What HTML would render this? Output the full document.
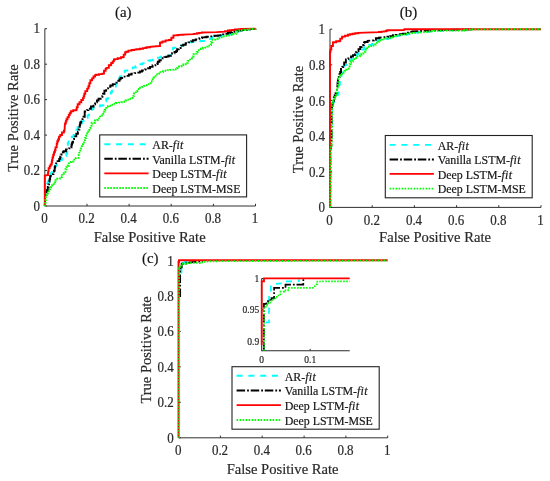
<!DOCTYPE html>
<html><head><meta charset="utf-8"><title>ROC curves</title>
<style>
html,body{margin:0;padding:0;background:#fff;}
svg{display:block;font-family:"Liberation Serif",serif;fill:#2a2a2a;}
text{stroke:#2a2a2a;stroke-width:0.2px;font-variant-ligatures:none;font-feature-settings:"liga" 0;}
</style></head>
<body>
<svg width="550" height="481" viewBox="0 0 550 481">
<rect width="550" height="481" fill="#fff"/>
<g id="plotA">
<path d="M44.85 28.7V206H255.5" fill="none" stroke="#303030" stroke-width="1"/>
<path d="M44.9 206v-2.2 M44.85 206.0h2.2 M87.0 206v-2.2 M44.85 170.5h2.2 M129.1 206v-2.2 M44.85 135.1h2.2 M171.2 206v-2.2 M44.85 99.6h2.2 M213.4 206v-2.2 M44.85 64.2h2.2 M255.5 206v-2.2 M44.85 28.7h2.2 " fill="none" stroke="#303030" stroke-width="1"/>
<text transform="translate(44.5 223.4) scale(1 1.06)" text-anchor="middle" font-size="13">0</text>
<text transform="translate(40.0 210.6) scale(1 1.06)" text-anchor="end" font-size="13">0</text>
<text transform="translate(86.6 223.4) scale(1 1.06)" text-anchor="middle" font-size="13">0.2</text>
<text transform="translate(40.0 175.1) scale(1 1.06)" text-anchor="end" font-size="13">0.2</text>
<text transform="translate(128.7 223.4) scale(1 1.06)" text-anchor="middle" font-size="13">0.4</text>
<text transform="translate(40.0 139.7) scale(1 1.06)" text-anchor="end" font-size="13">0.4</text>
<text transform="translate(170.8 223.4) scale(1 1.06)" text-anchor="middle" font-size="13">0.6</text>
<text transform="translate(40.0 104.2) scale(1 1.06)" text-anchor="end" font-size="13">0.6</text>
<text transform="translate(213.0 223.4) scale(1 1.06)" text-anchor="middle" font-size="13">0.8</text>
<text transform="translate(40.0 68.8) scale(1 1.06)" text-anchor="end" font-size="13">0.8</text>
<text transform="translate(255.1 223.4) scale(1 1.06)" text-anchor="middle" font-size="13">1</text>
<text transform="translate(40.0 33.3) scale(1 1.06)" text-anchor="end" font-size="13">1</text>
<text x="149.7" y="241.5" text-anchor="middle" font-size="14.6">False Positive Rate</text>
<text transform="translate(18.1 118.1) rotate(-90)" text-anchor="middle" font-size="14.5">True Positive Rate</text>
<polyline points="44.8,206.0 45.5,192.0 45.7,192.0 45.7,189.2 46.1,189.2 46.4,189.2 46.4,186.8 46.6,186.8 46.9,186.8 46.9,183.8 47.3,183.8 47.8,183.8 47.8,181.8 48.1,181.8 48.7,181.8 48.7,179.4 49.0,179.4 49.4,179.4 49.4,176.9 50.0,176.9 50.3,176.9 50.3,174.3 51.0,174.3 51.2,174.3 51.2,172.6 51.6,172.6 52.2,172.6 52.2,170.3 52.5,170.3 53.4,170.3 53.4,168.1 54.2,168.1 54.9,168.1 54.9,165.7 56.2,165.7 56.7,165.7 56.7,163.6 57.9,163.6 58.7,163.6 58.7,161.8 59.3,161.8 60.1,161.8 60.1,159.9 60.8,159.9 62.1,159.9 62.1,157.6 63.1,157.6 64.2,157.6 64.2,155.7 65.0,155.7 66.3,155.7 66.3,153.7 67.0,153.7 67.1,153.7 67.1,151.6 67.2,151.6 67.4,151.6 67.4,148.5 67.5,148.5 67.6,148.5 67.6,146.1 67.7,146.1 67.8,146.1 67.8,143.3 68.0,143.3 68.6,143.3 68.6,141.5 69.4,141.5 70.4,141.5 70.4,139.3 71.0,139.3 71.8,139.3 71.8,136.8 72.9,136.8 73.6,136.8 73.6,135.0 74.3,135.0 75.0,135.0 75.0,132.8 75.4,132.8 76.5,132.8 76.5,129.6 77.0,129.6 77.6,129.6 77.6,127.2 78.2,127.2 78.6,127.2 78.6,124.6 79.5,124.6 79.5,123.6 81.7,123.6 81.7,122.5 81.7,121.3 83.6,121.3 83.6,120.8 83.6,120.2 85.0,120.2 85.0,119.4 85.0,118.7 86.8,118.7 86.8,117.7 87.6,117.7 87.6,115.4 88.4,115.4 89.0,115.4 89.0,113.4 89.8,113.4 90.4,113.4 90.4,111.3 91.3,111.3 91.8,111.3 91.8,109.0 92.8,109.0 93.3,109.0 93.3,107.3 94.0,107.3 94.0,106.9 96.7,106.9 96.7,106.6 96.7,106.2 99.9,106.2 99.9,105.8 99.9,105.5 102.4,105.5 102.4,105.2 103.3,105.2 103.3,103.0 104.0,103.0 104.8,103.0 104.8,101.2 105.4,101.2 106.2,101.2 106.2,98.7 107.3,98.7 107.9,98.7 107.9,96.9 108.6,96.9 109.2,96.9 109.2,94.6 110.0,94.6 110.9,94.6 110.9,92.3 111.5,92.3 111.9,92.3 111.9,90.6 112.5,90.6 113.1,90.6 113.1,88.6 113.8,88.6 114.3,88.6 114.3,86.6 114.8,86.6 115.8,86.6 115.8,83.3 116.4,83.3 117.0,83.3 117.0,81.1 117.5,81.1 118.0,81.1 118.0,78.2 119.0,78.2 119.8,78.2 119.8,76.4 120.5,76.4 121.3,76.4 121.3,75.0 121.7,75.0 122.6,75.0 122.6,72.4 123.9,72.4 124.7,72.4 124.7,70.9 125.2,70.9 125.2,70.6 127.3,70.6 127.3,70.1 127.3,69.1 130.9,69.1 130.9,68.7 130.9,68.2 132.9,68.2 132.9,67.9 132.9,67.5 135.6,67.5 135.6,66.8 135.6,66.3 138.1,66.3 138.1,65.7 138.1,65.1 140.4,65.1 140.4,64.7 140.4,64.2 142.4,64.2 142.4,63.8 142.4,63.1 145.1,63.1 145.1,62.6 145.1,61.9 148.2,61.9 148.2,61.3 148.2,60.8 150.0,60.8 150.0,60.5 150.0,60.3 152.9,60.3 152.9,60.0 152.9,59.8 156.2,59.8 156.2,59.5 156.2,59.0 157.9,59.0 157.9,58.5 157.9,57.6 160.4,57.6 160.4,57.0 160.4,56.8 163.1,56.8 163.1,56.6 163.1,56.4 165.2,56.4 165.2,56.2 165.2,56.1 167.9,56.1 167.9,55.8 167.9,55.5 170.8,55.5 170.8,55.3 171.1,55.3 171.1,53.4 171.6,53.4 172.2,53.4 172.2,51.0 172.7,51.0 173.0,51.0 173.0,48.1 173.9,48.1 173.9,47.6 176.5,47.6 176.5,47.3 176.5,46.8 178.7,46.8 178.7,46.5 178.7,46.1 181.3,46.1 181.3,45.7 181.3,45.4 183.3,45.4 183.3,45.0 183.3,44.6 186.2,44.6 186.2,43.9 186.2,43.4 188.3,43.4 188.3,43.1 188.3,42.4 191.6,42.4 191.6,41.8 191.6,41.8 193.6,41.8 193.6,41.7 193.6,41.6 196.4,41.6 196.4,41.5 196.4,41.4 199.0,41.4 199.0,41.3 199.0,41.2 200.9,41.2 200.9,41.2 200.9,41.0 203.9,41.0 203.9,41.0 203.9,40.9 206.1,40.9 206.1,40.8 206.1,40.2 208.0,40.2 208.0,39.9 208.0,39.1 210.6,39.1 210.6,38.6 210.6,38.3 212.4,38.3 212.4,37.7 212.4,37.3 214.9,37.3 214.9,37.1 214.9,36.8 217.4,36.8 217.4,36.4 217.4,36.2 220.7,36.2 220.7,35.6 220.7,35.4 223.7,35.4 223.7,35.1 223.7,34.9 225.2,34.9 225.2,34.8 225.2,34.6 227.6,34.6 227.6,34.4 227.6,34.2 231.2,34.2 231.2,33.8 231.2,33.7 233.2,33.7 233.2,33.5 233.2,32.7 236.3,32.7 236.3,32.2 236.3,31.9 238.1,31.9 238.1,31.4 238.1,30.7 241.5,30.7 241.5,30.0 241.5,29.9 244.0,29.9 244.0,29.8 244.0,29.6 247.5,29.6 247.5,29.4 247.5,29.4 249.9,29.4 249.9,29.2 249.9,29.1 252.6,29.1 252.6,29.0 252.6,28.9 255.5,28.9 255.5,28.7" fill="none" stroke="#00ffff" stroke-width="1.9" stroke-dasharray="6 5.8" stroke-linejoin="miter"/>
<polyline points="44.8,206.0 45.2,195.2 45.8,195.2 45.8,192.2 46.3,192.2 46.8,192.2 46.8,190.3 47.1,190.3 47.8,190.3 47.8,187.0 48.3,187.0 48.6,187.0 48.6,184.4 48.8,184.4 49.0,184.4 49.0,181.6 49.4,181.6 49.6,181.6 49.6,179.3 49.8,179.3 50.1,179.3 50.1,176.5 50.4,176.5 50.4,175.9 51.8,175.9 51.8,175.1 51.8,174.1 53.5,174.1 53.5,173.4 54.0,173.4 54.0,170.7 54.2,170.7 54.7,170.7 54.7,167.2 55.1,167.2 55.2,167.2 55.2,165.0 55.6,165.0 56.1,165.0 56.1,163.4 56.7,163.4 57.6,163.4 57.6,161.1 58.3,161.1 59.2,161.1 59.2,158.9 59.8,158.9 60.2,158.9 60.2,156.7 60.5,156.7 60.7,156.7 60.7,154.6 61.2,154.6 61.5,154.6 61.5,152.6 61.8,152.6 61.8,152.2 63.6,152.2 63.6,151.7 63.6,151.3 66.0,151.3 66.0,150.5 66.0,149.4 68.8,149.4 68.8,148.8 68.8,148.4 71.2,148.4 71.2,147.4 71.5,147.4 71.5,144.5 71.9,144.5 72.1,144.5 72.1,142.5 72.4,142.5 73.0,142.5 73.0,139.1 73.3,139.1 74.0,139.1 74.0,136.4 75.2,136.4 76.3,136.4 76.3,133.8 77.1,133.8 77.9,133.8 77.9,131.8 78.5,131.8 78.7,131.8 78.7,129.5 79.0,129.5 79.4,129.5 79.4,126.7 79.6,126.7 79.8,126.7 79.8,124.7 80.0,124.7 80.2,124.7 80.2,122.5 80.5,122.5 81.2,122.5 81.2,120.5 82.0,120.5 82.5,120.5 82.5,119.1 83.0,119.1 83.5,119.1 83.5,116.7 84.7,116.7 84.7,112.5 84.7,111.5 86.9,111.5 86.9,110.6 86.9,110.1 88.4,110.1 88.4,109.4 88.4,108.7 90.9,108.7 90.9,107.3 90.9,106.5 93.5,106.5 93.5,104.7 93.5,104.2 95.1,104.2 95.1,103.2 95.1,102.3 96.9,102.3 96.9,101.4 96.9,100.5 98.5,100.5 98.5,99.8 98.5,98.7 100.6,98.7 100.6,97.7 100.6,96.9 102.4,96.9 102.4,95.9 103.0,95.9 103.0,93.8 103.6,93.8 104.4,93.8 104.4,90.8 105.3,90.8 106.1,90.8 106.1,88.6 106.5,88.6 106.5,88.3 108.1,88.3 108.1,87.6 108.1,86.7 110.4,86.7 110.4,86.1 110.4,85.5 112.8,85.5 112.8,84.7 112.8,84.1 114.8,84.1 114.8,83.4 114.8,82.6 116.6,82.6 116.6,82.1 116.6,80.8 119.5,80.8 119.5,79.9 119.5,79.4 120.6,79.4 120.6,79.1 120.6,78.0 123.2,78.0 123.2,77.2 123.2,76.6 125.8,76.6 125.8,76.2 125.8,75.9 128.8,75.9 128.8,75.1 128.8,74.5 131.5,74.5 131.5,74.1 131.5,73.6 134.5,73.6 134.5,73.3 134.5,73.1 136.6,73.1 136.6,72.8 136.6,72.6 139.8,72.6 139.8,72.0 139.8,71.5 142.1,71.5 142.1,71.1 142.1,70.5 144.9,70.5 144.9,69.9 144.9,69.5 146.8,69.5 146.8,69.1 146.8,68.3 150.0,68.3 150.0,67.8 150.0,66.9 152.6,66.9 152.6,66.4 152.6,65.3 155.4,65.3 155.4,64.7 155.4,64.0 157.3,64.0 157.3,63.7 157.8,63.7 157.8,61.7 158.9,61.7 159.4,61.7 159.4,60.2 160.0,60.2 160.8,60.2 160.8,58.5 161.4,58.5 161.4,58.2 164.3,58.2 164.3,57.5 164.3,57.1 166.3,57.1 166.3,56.8 166.3,56.6 168.5,56.6 168.5,56.1 168.5,55.8 170.8,55.8 170.8,55.3 170.8,54.6 172.1,54.6 172.1,54.2 172.1,53.3 174.5,53.3 174.5,52.4 174.5,52.0 176.0,52.0 176.0,51.2 177.1,51.2 177.1,49.3 177.9,49.3 178.7,49.3 178.7,48.0 179.2,48.0 180.6,48.0 180.6,46.0 181.2,46.0 181.2,45.6 183.2,45.6 183.2,45.1 183.2,44.8 185.7,44.8 185.7,44.1 185.7,43.3 188.5,43.3 188.5,42.9 188.5,42.4 191.0,42.4 191.0,41.8 191.0,41.5 192.8,41.5 192.8,41.0 192.8,40.2 195.7,40.2 195.7,39.8 195.7,39.4 197.7,39.4 197.7,39.1 197.7,38.9 199.4,38.9 199.4,38.6 199.4,38.1 202.0,38.1 202.0,37.7 202.0,37.4 205.0,37.4 205.0,37.3 205.0,37.2 206.6,37.2 206.6,37.0 206.6,36.8 209.9,36.8 209.9,36.6 209.9,36.4 212.4,36.4 212.4,36.2 212.4,36.0 214.4,36.0 214.4,36.0 214.4,35.7 218.0,35.7 218.0,35.6 218.0,35.4 220.6,35.4 220.6,35.3 220.6,35.1 222.8,35.1 222.8,35.0 222.8,34.4 225.2,34.4 225.2,34.2 225.2,33.8 227.8,33.8 227.8,33.3 227.8,32.9 230.0,32.9 230.0,32.5 230.0,32.2 232.3,32.2 232.3,32.0 232.3,31.7 234.4,31.7 234.4,31.5 234.4,31.2 236.7,31.2 236.7,31.0 236.7,30.8 239.4,30.8 239.4,30.4 239.4,30.2 242.1,30.2 242.1,30.1 242.1,30.0 244.3,30.0 244.3,29.9 244.3,29.7 247.0,29.7 247.0,29.6 247.0,29.5 249.6,29.5 249.6,29.3 249.6,29.1 253.0,29.1 253.0,29.0 253.0,28.9 255.5,28.9 255.5,28.7" fill="none" stroke="#000000" stroke-width="1.9" stroke-dasharray="8.5 2 1.8 1.8" stroke-linejoin="miter"/>
<polyline points="44.8,206.0 44.8,175.5 47.9,175.0 48.0,175.0 48.0,172.6 48.2,172.6 48.3,172.6 48.3,171.0 48.4,171.0 48.6,171.0 48.6,168.2 48.7,168.2 49.7,168.2 49.7,166.2 50.2,166.2 50.6,166.2 50.6,164.5 51.4,164.5 51.7,164.5 51.7,162.1 51.9,162.1 52.0,162.1 52.0,160.2 52.3,160.2 52.5,160.2 52.5,157.5 52.9,157.5 53.2,157.5 53.2,154.7 53.5,154.7 54.0,154.7 54.0,152.2 54.4,152.2 54.9,152.2 54.9,150.2 55.2,150.2 55.5,150.2 55.5,147.4 56.2,147.4 56.7,147.4 56.7,143.8 57.1,143.8 57.3,143.8 57.3,141.2 57.7,141.2 58.1,141.2 58.1,139.5 58.6,139.5 59.0,139.5 59.0,136.6 60.0,136.6 60.3,136.6 60.3,135.0 60.8,135.0 62.0,135.0 62.0,132.5 63.0,132.5 63.9,132.5 63.9,130.8 64.5,130.8 65.0,123.5 65.8,123.5 65.8,121.2 66.1,121.2 66.5,121.2 66.5,119.3 67.0,119.3 67.5,119.3 67.5,117.3 68.0,117.3 68.8,117.3 68.8,115.0 69.2,115.0 69.7,115.0 69.7,113.3 70.2,113.3 70.8,113.3 70.8,111.5 71.2,111.5 71.2,111.2 73.2,111.2 73.2,110.7 73.2,110.2 76.4,110.2 76.4,109.4 76.7,109.4 76.7,107.3 77.2,107.3 77.7,107.3 77.7,104.2 78.5,104.2 79.5,104.2 79.5,102.3 80.3,102.3 81.3,102.3 81.3,100.0 82.6,100.0 82.9,100.0 82.9,98.1 83.3,98.1 83.7,98.1 83.7,96.2 83.9,96.2 84.3,96.2 84.3,93.8 84.7,93.8 85.3,93.8 85.3,91.1 86.3,91.1 87.2,91.1 87.2,88.6 87.8,88.6 88.4,88.6 88.4,86.3 88.7,86.3 89.3,86.3 89.3,83.2 89.8,83.2 90.4,83.2 90.4,80.3 90.9,80.3 92.1,80.3 92.1,78.4 92.8,78.4 93.5,78.4 93.5,76.5 94.7,76.5 95.1,76.5 95.1,75.1 96.1,75.1 96.1,74.8 99.0,74.8 99.0,74.4 99.0,74.1 102.4,74.1 102.4,73.6 104.0,73.6 104.0,70.7 104.9,70.7 105.6,70.7 105.6,68.9 106.5,68.9 106.5,67.9 108.8,67.9 108.8,66.6 108.8,65.3 110.7,65.3 110.7,64.7 111.2,64.7 111.2,63.0 112.0,63.0 112.7,63.0 112.7,61.4 113.3,61.4 113.9,61.4 113.9,59.5 114.8,59.5 114.8,59.1 117.7,59.1 117.7,58.6 117.7,58.3 121.0,58.3 121.0,57.7 121.0,57.2 123.2,57.2 123.2,57.0 123.7,57.0 123.7,54.6 124.8,54.6 125.2,54.6 125.2,52.2 126.3,52.2 126.3,51.7 128.4,51.7 128.4,51.4 128.4,50.6 131.5,50.6 131.5,50.1 131.5,50.0 134.2,50.0 134.2,49.8 134.2,49.6 136.4,49.6 136.4,49.5 136.4,49.3 139.8,49.3 139.8,49.1 139.8,48.7 143.0,48.7 143.0,48.4 143.0,48.1 145.4,48.1 145.4,47.8 145.4,47.7 146.8,47.7 146.8,47.5 146.8,47.2 150.0,47.2 150.0,46.8 159.4,46.0 160.0,46.0 160.0,42.9 160.4,42.9 160.4,42.5 162.5,42.5 162.5,42.1 162.5,41.5 165.6,41.5 165.6,40.8 165.6,40.4 168.8,40.4 168.8,40.2 168.8,40.0 170.8,40.0 170.8,39.8 171.4,39.8 171.4,37.7 172.4,37.7 173.4,37.7 173.4,35.6 173.9,35.6 173.9,35.4 176.7,35.4 176.7,35.3 176.7,35.2 178.4,35.2 178.4,35.1 178.4,34.9 181.1,34.9 181.1,34.8 181.1,34.7 183.3,34.7 183.3,34.6 193.7,34.1 193.7,33.9 196.9,33.9 196.9,33.5 196.9,33.3 199.3,33.3 199.3,33.0 199.3,32.9 202.0,32.9 202.0,32.5 216.5,32.1 225.0,31.6 225.0,31.1 228.0,31.1 228.0,30.8 228.0,30.5 230.0,30.5 230.0,30.3 230.0,30.1 232.5,30.1 232.5,30.0 232.5,29.9 234.9,29.9 234.9,29.7 234.9,29.4 238.8,29.4 238.8,29.2 238.8,29.1 241.0,29.1 241.0,28.9 255.5,28.7" fill="none" stroke="#ff0000" stroke-width="1.9" stroke-linejoin="miter"/>
<polyline points="44.8,206.0 45.1,206.0 45.1,203.0 45.3,203.0 45.5,203.0 45.5,200.0 45.8,200.0 46.0,200.0 46.0,197.3 46.2,197.3 46.9,197.3 46.9,194.8 47.5,194.8 48.0,194.8 48.0,192.7 48.5,192.7 48.9,192.7 48.9,191.4 49.2,191.4 50.0,191.4 50.0,189.0 50.4,189.0 51.1,189.0 51.1,186.9 51.7,186.9 52.2,186.9 52.2,184.9 53.0,184.9 53.7,184.9 53.7,182.3 54.6,182.3 55.1,182.3 55.1,180.7 55.6,180.7 55.6,180.1 57.2,180.1 57.2,179.6 57.2,178.8 59.8,178.8 59.8,177.8 59.8,177.0 61.8,177.0 61.8,176.5 62.3,176.5 62.3,173.7 63.4,173.7 63.7,173.7 63.7,171.8 64.4,171.8 65.4,171.8 65.4,169.3 65.8,169.3 66.3,169.3 66.3,167.2 67.0,167.2 67.7,167.2 67.7,165.7 68.2,165.7 68.9,165.7 68.9,163.4 70.1,163.4 70.6,163.4 70.6,162.0 71.2,162.0 71.2,161.5 73.3,161.5 73.3,160.5 73.3,159.6 75.8,159.6 75.8,158.7 75.8,157.9 78.5,157.9 78.5,156.8 78.7,156.8 78.7,154.2 79.1,154.2 79.3,154.2 79.3,151.7 79.7,151.7 80.2,151.7 80.2,148.5 80.5,148.5 80.9,148.5 80.9,146.1 81.7,146.1 82.0,146.1 82.0,144.2 82.6,144.2 83.0,144.2 83.0,142.6 83.5,142.6 83.9,142.6 83.9,140.1 84.7,140.1 85.1,140.1 85.1,138.0 85.6,138.0 86.1,138.0 86.1,135.7 86.6,135.7 87.3,135.7 87.3,133.3 87.7,133.3 88.2,133.3 88.2,130.4 89.0,130.4 89.3,130.4 89.3,128.3 89.9,128.3 90.4,128.3 90.4,125.9 90.9,125.9 91.4,125.9 91.4,123.5 92.0,123.5 92.0,122.8 95.0,122.8 95.0,121.5 95.0,120.5 97.2,120.5 97.2,120.0 97.8,120.0 97.8,118.4 98.6,118.4 100.1,118.4 100.1,115.7 100.8,115.7 101.8,115.7 101.8,113.7 102.5,113.7 103.2,113.7 103.2,111.5 104.4,111.5 104.8,111.5 104.8,109.8 105.8,109.8 106.3,109.8 106.3,107.9 107.3,107.9 108.0,107.9 108.0,106.3 108.6,106.3 108.6,105.8 111.3,105.8 111.3,105.1 111.3,104.7 113.4,104.7 113.4,104.3 113.4,103.8 115.9,103.8 115.9,103.2 115.9,103.0 118.8,103.0 118.8,102.8 118.8,102.6 121.3,102.6 121.3,102.4 121.3,102.3 123.2,102.3 123.2,102.1 123.2,101.7 125.6,101.7 125.6,100.9 125.6,100.5 127.2,100.5 127.2,100.1 127.2,99.6 129.0,99.6 129.0,99.2 129.0,98.7 131.5,98.7 131.5,98.0 132.5,98.0 132.5,95.8 133.1,95.8 133.9,95.8 133.9,93.5 134.8,93.5 135.9,93.5 135.9,91.2 136.5,91.2 137.3,91.2 137.3,89.6 137.7,89.6 137.7,89.0 140.2,89.0 140.2,88.4 140.2,87.8 142.1,87.8 142.1,87.4 142.1,86.9 144.0,86.9 144.0,86.5 144.0,85.9 146.0,85.9 146.0,85.5 146.0,85.2 147.7,85.2 147.7,84.6 147.7,84.1 150.0,84.1 150.0,83.4 150.6,83.4 150.6,81.2 151.6,81.2 152.7,81.2 152.7,79.2 153.2,79.2 153.6,79.2 153.6,77.5 154.4,77.5 155.6,77.5 155.6,75.1 156.2,75.1 156.2,74.4 158.6,74.4 158.6,73.9 158.6,73.6 160.5,73.6 160.5,73.0 160.5,72.1 163.0,72.1 163.0,71.7 163.0,71.3 164.6,71.3 164.6,70.9 164.6,70.8 167.6,70.8 167.6,70.4 167.6,70.2 169.9,70.2 169.9,70.0 169.9,69.9 171.6,69.9 171.6,69.8 171.6,69.6 173.9,69.6 173.9,69.4 173.9,69.2 177.0,69.2 177.0,68.9 177.0,68.1 179.0,68.1 179.0,67.6 179.0,66.5 181.5,66.5 181.5,65.9 181.5,65.1 183.3,65.1 183.3,64.7 183.3,64.2 185.6,64.2 185.6,63.1 185.6,62.7 187.8,62.7 187.8,61.7 187.8,60.9 189.5,60.9 189.5,60.5 190.1,60.5 190.1,58.3 191.3,58.3 192.0,58.3 192.0,56.5 192.8,56.5 193.6,56.5 193.6,54.3 194.7,54.3 194.7,53.6 196.8,53.6 196.8,52.6 196.8,52.0 198.8,52.0 198.8,50.9 198.8,50.2 200.9,50.2 200.9,49.1 200.9,48.8 202.8,48.8 202.8,48.3 202.8,47.6 205.1,47.6 205.1,47.3 205.1,46.6 207.8,46.6 207.8,46.1 207.8,45.6 210.3,45.6 210.3,45.0 211.0,45.0 211.0,42.2 212.0,42.2 212.4,42.2 212.4,39.8 213.4,39.8 213.4,39.5 215.3,39.5 215.3,39.2 215.3,38.8 217.9,38.8 217.9,38.3 217.9,37.8 220.3,37.8 220.3,37.5 220.3,37.2 222.8,37.2 222.8,36.6 222.8,36.3 225.3,36.3 225.3,36.1 225.3,35.9 227.8,35.9 227.8,35.6 227.8,35.5 230.3,35.5 230.3,35.2 230.3,35.0 233.2,35.0 233.2,34.6 233.2,34.0 235.8,34.0 235.8,32.9 235.8,32.2 237.2,32.2 237.2,31.9 237.2,31.1 239.4,31.1 239.4,30.4 239.4,30.2 242.7,30.2 242.7,30.1 242.7,30.0 244.5,30.0 244.5,29.9 244.5,29.6 247.9,29.6 247.9,29.5 247.9,29.4 249.5,29.4 249.5,29.3 249.5,29.1 252.5,29.1 252.5,29.0 252.5,28.9 255.5,28.9 255.5,28.7" fill="none" stroke="#00ff00" stroke-width="1.9" stroke-dasharray="1.6 1.4" stroke-linejoin="miter"/>
<rect x="99.7" y="134.9" width="146.89999999999998" height="62.0" fill="#fff" stroke="#222" stroke-width="1.1"/>
<line x1="104.3" y1="144.2" x2="148.6" y2="144.2" stroke="#00ffff" stroke-width="1.9" stroke-dasharray="6 5.8"/>
<text x="152.3" y="148.9" font-size="11.9" fill="#111" stroke="#111" stroke-width="0.15">AR-<tspan font-style="italic" letter-spacing="0.3">fit</tspan></text>
<line x1="104.3" y1="158.8" x2="148.6" y2="158.8" stroke="#000000" stroke-width="1.9" stroke-dasharray="8.5 2 1.8 1.8"/>
<text x="152.3" y="163.5" font-size="11.9" fill="#111" stroke="#111" stroke-width="0.15">Vanilla LSTM-<tspan font-style="italic" letter-spacing="0.3">fit</tspan></text>
<line x1="104.3" y1="173.4" x2="148.6" y2="173.4" stroke="#ff0000" stroke-width="1.9"/>
<text x="152.3" y="178.1" font-size="11.9" fill="#111" stroke="#111" stroke-width="0.15">Deep LSTM-<tspan font-style="italic" letter-spacing="0.3">fit</tspan></text>
<line x1="104.3" y1="188" x2="148.6" y2="188" stroke="#00ff00" stroke-width="1.9" stroke-dasharray="1.6 1.4"/>
<text x="152.3" y="192.7" font-size="11.9" fill="#111" stroke="#111" stroke-width="0.15">Deep LSTM-MSE</text>
<text x="123.3" y="17.1" text-anchor="middle" font-size="14.9" fill="#111" stroke="#111" stroke-width="0.25">(a)</text>
</g>
<g id="plotB">
<path d="M330 29.2V207.4H541" fill="none" stroke="#303030" stroke-width="1"/>
<path d="M330.0 207.4v-2.2 M330 207.4h2.2 M372.2 207.4v-2.2 M330 171.8h2.2 M414.4 207.4v-2.2 M330 136.1h2.2 M456.6 207.4v-2.2 M330 100.5h2.2 M498.8 207.4v-2.2 M330 64.8h2.2 M541.0 207.4v-2.2 M330 29.2h2.2 " fill="none" stroke="#303030" stroke-width="1"/>
<text transform="translate(329.6 224.8) scale(1 1.06)" text-anchor="middle" font-size="13">0</text>
<text transform="translate(325.1 212.4) scale(1 1.06)" text-anchor="end" font-size="13">0</text>
<text transform="translate(371.8 224.8) scale(1 1.06)" text-anchor="middle" font-size="13">0.2</text>
<text transform="translate(325.1 176.8) scale(1 1.06)" text-anchor="end" font-size="13">0.2</text>
<text transform="translate(414.0 224.8) scale(1 1.06)" text-anchor="middle" font-size="13">0.4</text>
<text transform="translate(325.1 141.1) scale(1 1.06)" text-anchor="end" font-size="13">0.4</text>
<text transform="translate(456.2 224.8) scale(1 1.06)" text-anchor="middle" font-size="13">0.6</text>
<text transform="translate(325.1 105.5) scale(1 1.06)" text-anchor="end" font-size="13">0.6</text>
<text transform="translate(498.4 224.8) scale(1 1.06)" text-anchor="middle" font-size="13">0.8</text>
<text transform="translate(325.1 69.8) scale(1 1.06)" text-anchor="end" font-size="13">0.8</text>
<text transform="translate(540.6 224.8) scale(1 1.06)" text-anchor="middle" font-size="13">1</text>
<text transform="translate(325.1 34.2) scale(1 1.06)" text-anchor="end" font-size="13">1</text>
<text x="435.0" y="241.5" text-anchor="middle" font-size="14.6">False Positive Rate</text>
<text transform="translate(303.0 119.5) rotate(-90)" text-anchor="middle" font-size="14.5">True Positive Rate</text>
<polyline points="330.0,207.4 330.1,148.0 330.6,148.0 330.6,145.2 330.9,145.2 331.1,145.2 331.1,143.0 331.5,143.0 331.8,108.0 332.0,108.0 332.0,105.2 332.4,105.2 332.6,105.2 332.6,103.5 332.8,103.5 333.1,103.5 333.1,101.8 333.5,101.8 334.2,101.8 334.2,98.9 334.7,98.9 335.2,98.9 335.2,97.0 335.5,97.0 336.3,97.0 336.3,94.7 337.1,94.7 338.0,94.7 338.0,93.0 338.4,93.0 338.6,93.0 338.6,89.3 338.9,89.3 339.0,89.3 339.0,87.6 339.1,87.6 339.3,87.6 339.3,84.0 339.5,84.0 339.8,84.0 339.8,81.4 340.0,81.4 340.1,81.4 340.1,78.9 340.5,78.9 340.8,78.9 340.8,76.0 341.0,76.0 341.4,76.0 341.4,73.1 341.9,73.1 342.1,73.1 342.1,71.4 342.4,71.4 342.7,71.4 342.7,68.7 343.2,68.7 343.7,68.7 343.7,66.0 344.0,66.0 344.0,65.0 346.4,65.0 346.4,63.6 346.4,62.5 348.0,62.5 348.0,62.0 348.0,61.4 349.6,61.4 349.6,61.0 349.6,60.1 351.6,60.1 351.6,59.6 351.6,58.6 354.0,58.6 354.0,58.0 354.0,57.0 356.5,57.0 356.5,55.5 356.5,54.4 358.4,54.4 358.4,53.6 358.4,52.5 360.0,52.5 360.0,52.0 360.0,51.4 361.6,51.4 361.6,50.4 361.6,49.5 364.0,49.5 364.0,48.0 364.0,47.0 366.0,47.0 366.0,46.0 366.0,45.4 369.3,45.4 369.3,45.2 369.3,44.9 372.0,44.9 372.0,44.5 372.0,43.9 374.0,43.9 374.0,43.2 374.0,42.6 376.5,42.6 376.5,41.7 376.5,41.1 378.3,41.1 378.3,40.6 378.3,40.1 380.0,40.1 380.0,39.5 380.0,39.3 382.9,39.3 382.9,39.1 382.9,38.9 385.5,38.9 385.5,38.8 385.5,38.7 388.0,38.7 388.0,38.5 388.0,38.2 390.6,38.2 390.6,37.7 390.6,37.3 393.8,37.3 393.8,36.7 393.8,36.3 396.0,36.3 396.0,36.0 396.0,35.8 398.4,35.8 398.4,35.6 398.4,35.5 401.5,35.5 401.5,35.2 401.5,35.1 403.2,35.1 403.2,34.9 403.2,34.7 406.0,34.7 406.0,34.5 406.0,34.3 408.6,34.3 408.6,33.9 408.6,33.3 411.7,33.3 411.7,33.1 411.7,32.7 414.0,32.7 414.0,32.5 425.0,31.8 425.0,31.7 427.9,31.7 427.9,31.5 427.9,31.4 430.0,31.4 430.0,31.3 430.0,31.2 432.6,31.2 432.6,31.0 432.6,30.9 435.0,30.9 435.0,30.8 452.0,30.2 470.0,29.5" fill="none" stroke="#00ffff" stroke-width="1.9" stroke-dasharray="6 5.8" stroke-linejoin="miter"/>
<polyline points="330.2,207.4 330.4,148.0 330.7,148.0 330.7,145.7 330.9,145.7 331.3,145.7 331.3,143.0 331.5,143.0 331.7,108.0 332.0,108.0 332.0,106.1 332.1,106.1 332.4,106.1 332.4,103.5 332.6,103.5 333.1,103.5 333.1,101.2 333.3,101.2 333.8,101.2 333.8,97.5 334.5,97.5 334.7,97.5 334.7,95.5 335.1,95.5 335.6,95.5 335.6,93.2 335.9,93.2 336.4,93.2 336.4,90.8 336.6,90.8 337.0,90.8 337.0,88.7 337.3,88.7 337.6,82.4 337.9,82.4 337.9,79.4 338.5,79.4 338.8,79.4 338.8,77.0 339.1,77.0 339.5,77.0 339.5,74.2 340.0,74.2 340.2,74.2 340.2,72.0 340.6,72.0 341.0,72.0 341.0,69.0 341.9,69.0 342.3,69.0 342.3,67.0 342.7,67.0 343.2,67.0 343.2,64.7 343.7,64.7 344.2,64.7 344.2,62.5 345.0,62.5 345.9,62.5 345.9,59.5 346.8,59.5 346.8,59.1 348.4,59.1 348.4,58.5 348.4,57.4 351.0,57.4 351.0,56.9 351.0,56.5 353.0,56.5 353.0,55.6 353.0,55.1 355.1,55.1 355.1,54.3 355.9,54.3 355.9,52.3 356.7,52.3 357.2,52.3 357.2,51.1 357.7,51.1 358.5,51.1 358.5,49.1 359.3,49.1 360.2,49.1 360.2,47.0 361.0,47.0 361.6,47.0 361.6,45.0 362.8,45.0 363.9,45.0 363.9,42.9 364.5,42.9 364.5,42.0 367.6,42.0 367.6,40.8 373.9,40.4 373.9,39.9 375.9,39.9 375.9,39.4 375.9,38.3 379.0,38.3 379.0,37.7 387.4,37.0 387.4,36.7 390.3,36.7 390.3,36.3 390.3,36.1 392.9,36.1 392.9,35.7 392.9,35.3 395.7,35.3 395.7,35.0 395.7,34.9 398.1,34.9 398.1,34.7 398.1,34.5 400.3,34.5 400.3,34.3 400.3,34.1 402.9,34.1 402.9,33.9 402.9,33.7 406.0,33.7 406.0,33.5 406.0,33.1 407.8,33.1 407.8,32.9 407.8,32.6 409.8,32.6 409.8,32.2 409.8,31.9 412.3,31.9 412.3,31.4 424.8,30.8 424.8,30.7 427.4,30.7 427.4,30.6 427.4,30.5 430.1,30.5 430.1,30.4 430.1,30.3 432.5,30.3 432.5,30.2 432.5,30.1 435.0,30.1 435.0,30.0 450.0,29.8 472.0,29.4" fill="none" stroke="#000000" stroke-width="1.9" stroke-dasharray="8.5 2 1.8 1.8" stroke-linejoin="miter"/>
<polyline points="330.0,207.4 330.0,52.0 330.4,52.0 330.4,49.6 330.7,49.6 331.3,49.6 331.3,46.0 331.8,46.0 332.9,46.0 332.9,42.5 333.5,42.5 333.5,42.2 336.2,42.2 336.2,41.7 336.2,41.2 339.6,41.2 339.6,40.8 340.3,40.8 340.3,38.6 341.3,38.6 342.1,38.6 342.1,36.8 342.7,36.8 342.7,36.6 345.0,36.6 345.0,36.1 345.0,35.8 347.9,35.8 347.9,35.2 347.9,34.8 350.0,34.8 350.0,34.6 350.0,34.3 352.6,34.3 352.6,34.1 352.6,33.8 355.2,33.8 355.2,33.5 355.2,33.3 358.3,33.3 358.3,32.9 379.0,32.1 379.0,32.0 381.4,32.0 381.4,31.8 381.4,31.6 383.9,31.6 383.9,31.5 383.9,31.4 386.0,31.4 386.0,31.2 386.0,30.8 387.4,30.8 387.4,30.3 404.0,30.1 404.3,29.3 541.0,29.2" fill="none" stroke="#ff0000" stroke-width="1.9" stroke-linejoin="miter"/>
<polyline points="330.2,207.4 330.5,148.0 330.9,148.0 330.9,145.3 331.1,145.3 331.5,145.3 331.5,143.0 331.7,143.0 331.9,108.0 332.0,108.0 332.0,106.1 332.3,106.1 332.6,106.1 332.6,103.5 332.8,103.5 333.2,103.5 333.2,100.8 333.7,100.8 334.4,100.8 334.4,97.5 334.8,97.5 335.0,97.5 335.0,95.6 335.4,95.6 336.0,95.6 336.0,92.6 336.3,92.6 336.6,92.6 336.6,90.9 336.8,90.9 337.0,90.9 337.0,88.7 337.5,88.7 337.7,88.7 337.7,85.6 337.8,85.6 338.0,85.6 338.0,83.1 338.0,83.1 338.1,83.1 338.1,80.5 338.3,80.5 338.4,80.5 338.4,78.2 338.5,78.2 339.3,78.2 339.3,76.3 340.0,76.3 340.5,76.3 340.5,74.9 341.1,74.9 342.0,74.9 342.0,73.0 342.7,73.0 342.7,72.5 344.6,72.5 344.6,71.5 344.6,70.9 346.2,70.9 346.2,70.3 346.2,69.7 347.9,69.7 347.9,68.9 348.6,68.9 348.6,66.5 349.1,66.5 349.6,66.5 349.6,64.2 350.2,64.2 350.5,64.2 350.5,62.6 351.0,62.6 351.0,61.5 352.9,61.5 352.9,61.1 352.9,60.7 354.3,60.7 354.3,60.0 354.3,59.0 356.2,59.0 356.2,58.5 356.2,58.0 357.5,58.0 357.5,57.4 357.5,56.4 359.9,56.4 359.9,55.5 359.9,54.9 361.4,54.9 361.4,54.3 361.4,53.6 363.3,53.6 363.3,52.9 363.3,51.8 365.5,51.8 365.5,51.2 365.9,51.2 365.9,49.3 366.5,49.3 367.2,49.3 367.2,47.0 367.6,47.0 367.6,46.7 369.6,46.7 369.6,46.4 369.6,46.1 372.3,46.1 372.3,45.7 372.3,45.5 374.9,45.5 374.9,45.0 374.9,44.5 376.9,44.5 376.9,43.4 376.9,42.9 378.4,42.9 378.4,42.2 378.4,41.8 380.1,41.8 380.1,40.8 380.1,40.5 382.3,40.5 382.3,40.0 382.3,39.6 384.5,39.6 384.5,39.3 384.5,38.7 387.4,38.7 387.4,38.3 387.4,38.0 389.9,38.0 389.9,37.7 389.9,37.3 392.9,37.3 392.9,36.9 392.9,36.4 395.7,36.4 395.7,36.2 395.7,35.9 397.9,35.9 397.9,35.7 397.9,35.4 401.2,35.4 401.2,35.1 401.2,34.9 403.5,34.9 403.5,34.6 403.5,34.4 406.0,34.4 406.0,34.1 406.0,33.8 409.2,33.8 409.2,33.6 409.2,33.5 411.3,33.5 411.3,33.3 411.3,33.1 414.4,33.1 414.4,32.9 424.8,32.1 424.8,31.9 427.2,31.9 427.2,31.8 427.2,31.6 429.8,31.6 429.8,31.5 429.8,31.3 431.8,31.3 431.8,31.2 431.8,31.0 435.0,31.0 435.0,30.8 450.0,30.6 462.0,30.6 462.0,30.5 464.2,30.5 464.2,30.3 464.2,30.2 466.6,30.2 466.6,30.0 466.6,29.8 469.9,29.8 469.9,29.6 469.9,29.5 472.0,29.5 472.0,29.4 541.0,29.2" fill="none" stroke="#00ff00" stroke-width="1.9" stroke-dasharray="1.6 1.4" stroke-linejoin="miter"/>
<rect x="385.3" y="135.5" width="146.90000000000003" height="62.30000000000001" fill="#fff" stroke="#222" stroke-width="1.1"/>
<line x1="389.6" y1="144.9" x2="433.9" y2="144.9" stroke="#00ffff" stroke-width="1.9" stroke-dasharray="6 5.8"/>
<text x="437.7" y="149.6" font-size="11.9" fill="#111" stroke="#111" stroke-width="0.15">AR-<tspan font-style="italic" letter-spacing="0.3">fit</tspan></text>
<line x1="389.6" y1="159.5" x2="433.9" y2="159.5" stroke="#000000" stroke-width="1.9" stroke-dasharray="8.5 2 1.8 1.8"/>
<text x="437.7" y="164.2" font-size="11.9" fill="#111" stroke="#111" stroke-width="0.15">Vanilla LSTM-<tspan font-style="italic" letter-spacing="0.3">fit</tspan></text>
<line x1="389.6" y1="173.9" x2="433.9" y2="173.9" stroke="#ff0000" stroke-width="1.9"/>
<text x="437.7" y="178.6" font-size="11.9" fill="#111" stroke="#111" stroke-width="0.15">Deep LSTM-<tspan font-style="italic" letter-spacing="0.3">fit</tspan></text>
<line x1="389.6" y1="188.6" x2="433.9" y2="188.6" stroke="#00ff00" stroke-width="1.9" stroke-dasharray="1.6 1.4"/>
<text x="437.7" y="193.3" font-size="11.9" fill="#111" stroke="#111" stroke-width="0.15">Deep LSTM-MSE</text>
<text x="408.5" y="17" text-anchor="middle" font-size="15" fill="#111" stroke="#111" stroke-width="0.25">(b)</text>
</g>
<g id="plotC">
<path d="M178.6 260.5V437.8H387.7" fill="none" stroke="#303030" stroke-width="1"/>
<path d="M178.6 437.8v-2.2 M178.6 437.8h2.2 M220.4 437.8v-2.2 M178.6 402.3h2.2 M262.2 437.8v-2.2 M178.6 366.9h2.2 M304.1 437.8v-2.2 M178.6 331.4h2.2 M345.9 437.8v-2.2 M178.6 296.0h2.2 M387.7 437.8v-2.2 M178.6 260.5h2.2 " fill="none" stroke="#303030" stroke-width="1"/>
<text transform="translate(178.2 455.3) scale(1 1.06)" text-anchor="middle" font-size="13">0</text>
<text transform="translate(173.7 442.8) scale(1 1.06)" text-anchor="end" font-size="13">0</text>
<text transform="translate(220.0 455.3) scale(1 1.06)" text-anchor="middle" font-size="13">0.2</text>
<text transform="translate(173.7 407.3) scale(1 1.06)" text-anchor="end" font-size="13">0.2</text>
<text transform="translate(261.8 455.3) scale(1 1.06)" text-anchor="middle" font-size="13">0.4</text>
<text transform="translate(173.7 371.9) scale(1 1.06)" text-anchor="end" font-size="13">0.4</text>
<text transform="translate(303.7 455.3) scale(1 1.06)" text-anchor="middle" font-size="13">0.6</text>
<text transform="translate(173.7 336.4) scale(1 1.06)" text-anchor="end" font-size="13">0.6</text>
<text transform="translate(345.5 455.3) scale(1 1.06)" text-anchor="middle" font-size="13">0.8</text>
<text transform="translate(173.7 301.0) scale(1 1.06)" text-anchor="end" font-size="13">0.8</text>
<text transform="translate(387.3 455.3) scale(1 1.06)" text-anchor="middle" font-size="13">1</text>
<text transform="translate(173.7 265.5) scale(1 1.06)" text-anchor="end" font-size="13">1</text>
<text x="282.6" y="473.6" text-anchor="middle" font-size="14.6">False Positive Rate</text>
<text transform="translate(151.0 349.9) rotate(-90)" text-anchor="middle" font-size="14.5">True Positive Rate</text>
<polyline points="181.4,273.5 181.4,268.0 181.6,268.0 181.6,265.7 182.1,265.7 182.5,265.7 182.5,262.8 183.0,262.8 183.0,262.7 184.9,262.7 184.9,262.5 184.9,262.3 187.2,262.3 187.2,262.2 187.2,262.0 190.0,262.0 190.0,261.8" fill="none" stroke="#00ffff" stroke-width="1.9" stroke-dasharray="6 5.8" stroke-linejoin="miter"/>
<polyline points="180.1,297.0 180.1,270.6 180.5,270.6 180.5,267.0 181.0,267.0 181.7,267.0 181.7,263.8 183.0,263.8 183.0,263.6 186.2,263.6 186.2,263.1 186.2,262.8 189.0,262.8 189.0,262.5 196.0,261.8 203.0,261.2" fill="none" stroke="#000000" stroke-width="1.9" stroke-dasharray="8.5 2 1.8 1.8" stroke-linejoin="miter"/>
<polyline points="178.5,437.8 178.5,262.0 179.0,262.0 179.0,260.2 179.8,260.2 387.7,260.3" fill="none" stroke="#ff0000" stroke-width="1.9" stroke-linejoin="miter"/>
<polyline points="179.1,437.8 179.1,268.5 179.7,268.5 179.7,267.0 180.4,267.0 181.5,267.0 181.5,265.4 182.0,265.4 182.7,265.4 182.7,263.8 183.5,263.8 183.5,263.5 186.1,263.5 186.1,263.3 186.1,263.1 188.7,263.1 188.7,262.8 196.0,262.8 201.2,263.1 201.2,262.4 203.2,262.4 203.2,261.8 210.0,261.2 300.0,260.9 387.7,260.5" fill="none" stroke="#00ff00" stroke-width="1.9" stroke-dasharray="1.6 1.4" stroke-linejoin="miter"/>
<rect x="232" y="366.7" width="147.2" height="62.5" fill="#fff" stroke="#222" stroke-width="1.1"/>
<line x1="236.6" y1="375.8" x2="280.9" y2="375.8" stroke="#00ffff" stroke-width="1.9" stroke-dasharray="6 5.8"/>
<text x="284.7" y="380.5" font-size="11.9" fill="#111" stroke="#111" stroke-width="0.15">AR-<tspan font-style="italic" letter-spacing="0.3">fit</tspan></text>
<line x1="236.6" y1="390.5" x2="280.9" y2="390.5" stroke="#000000" stroke-width="1.9" stroke-dasharray="8.5 2 1.8 1.8"/>
<text x="284.7" y="395.2" font-size="11.9" fill="#111" stroke="#111" stroke-width="0.15">Vanilla LSTM-<tspan font-style="italic" letter-spacing="0.3">fit</tspan></text>
<line x1="236.6" y1="405.1" x2="280.9" y2="405.1" stroke="#ff0000" stroke-width="1.9"/>
<text x="284.7" y="409.8" font-size="11.9" fill="#111" stroke="#111" stroke-width="0.15">Deep LSTM-<tspan font-style="italic" letter-spacing="0.3">fit</tspan></text>
<line x1="236.6" y1="420" x2="280.9" y2="420" stroke="#00ff00" stroke-width="1.9" stroke-dasharray="1.6 1.4"/>
<text x="284.7" y="424.7" font-size="11.9" fill="#111" stroke="#111" stroke-width="0.15">Deep LSTM-MSE</text>
<text x="150.3" y="263" text-anchor="middle" font-size="14.9" fill="#111" stroke="#111" stroke-width="0.25">(c)</text>
<path d="M261.7 278.5V350.8H349.7" fill="none" stroke="#2a2a2a" stroke-width="1.1"/>
<path d="M261.7 278.5h2 M261.7 309.8h2 M261.7 341.5h2 M310.2 350.8v-2" fill="none" stroke="#303030" stroke-width="1"/>
<text x="259.2" y="281.7" text-anchor="end" font-size="9.5">1</text>
<text x="259.2" y="313.0" text-anchor="end" font-size="9.5">0.95</text>
<text x="259.2" y="345.0" text-anchor="end" font-size="9.5">0.9</text>
<text x="261.7" y="362.5" text-anchor="middle" font-size="9.5">0</text>
<text x="310.2" y="362.5" text-anchor="middle" font-size="9.5">0.1</text>
<polyline points="265.8,322.3 269.0,322.3 269.0,294.9 270.9,294.3 270.9,284.7 274.0,284.1 285.5,283.0 285.5,281.4 299.0,281.2 299.0,279.3" fill="none" stroke="#00ffff" stroke-width="1.7" stroke-dasharray="6 5.8" stroke-linejoin="miter"/>
<polyline points="263.9,350.8 263.9,303.8 266.5,303.8 266.5,301.9 268.0,301.9 268.0,300.0 271.5,300.0 271.5,298.1 274.1,298.1 274.1,287.9 285.5,287.9 285.5,284.7 303.3,284.7 303.3,279.3" fill="none" stroke="#000000" stroke-width="1.7" stroke-dasharray="8.5 2 1.8 1.8" stroke-linejoin="miter"/>
<polyline points="261.7,345.0 261.7,281.4 264.0,281.4 264.0,278.4 349.7,278.4" fill="none" stroke="#ff0000" stroke-width="1.8" stroke-linejoin="miter"/>
<polyline points="264.0,350.8 264.0,307.0 265.8,307.0 265.8,305.1 268.4,305.1 268.4,302.5 271.5,302.5 271.5,299.4 275.4,299.4 275.4,296.8 278.5,296.8 278.5,294.3 280.4,294.3 280.4,291.7 284.3,291.7 284.3,290.4 288.1,290.4 288.1,287.9 314.2,287.9 315.4,284.7 317.3,284.1 317.3,281.5 349.7,281.3" fill="none" stroke="#00ff00" stroke-width="1.7" stroke-dasharray="1.6 1.4" stroke-linejoin="miter"/>
</g>
</svg>
</body></html>
